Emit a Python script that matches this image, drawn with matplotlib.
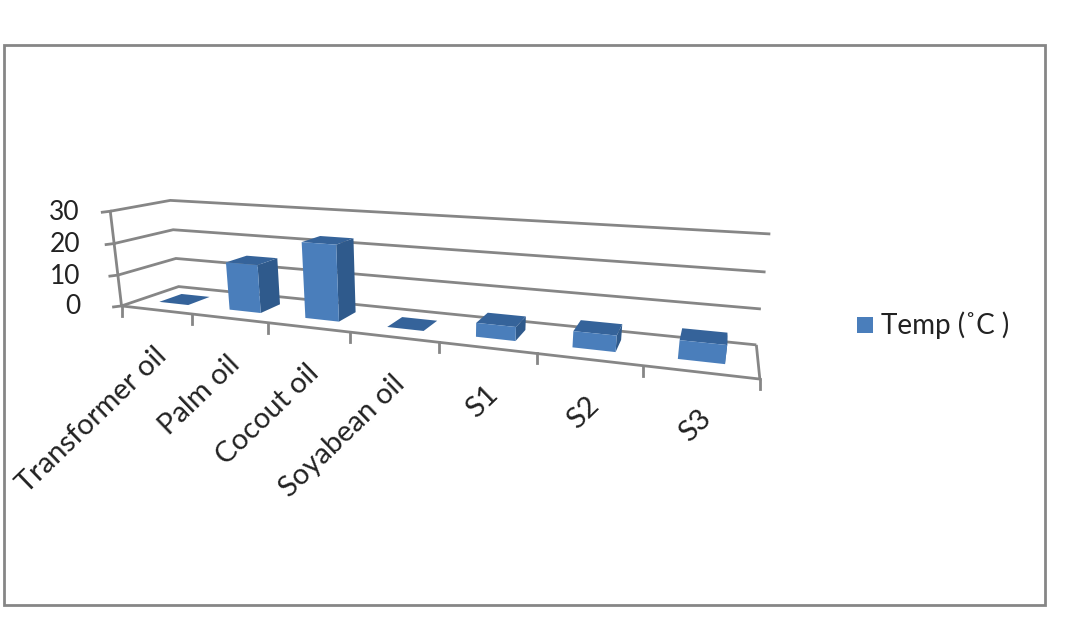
import numpy as np
import matplotlib
matplotlib.use("Agg")
import matplotlib.pyplot as plt
from matplotlib.patches import Polygon, Rectangle

categories = ["Transformer oil", "Palm oil", "Cocout oil", "Soyabean oil", "S1", "S2", "S3"]
temps = [0, 15, 23, 0, 4, 4.5, 5]
value_ticks = [0, 10, 20, 30]
series_name = "Temp (˚C )"

GRID = "#868686"
FRONT = "#4a7ebb"
SIDE = "#2f5a8c"
TOP = "#35639a"

plt.rcParams["font.family"] = ["Lato", "DejaVu Sans"]

# camera for the 3D box: (category, depth, value) -> pixel, solved from box landmarks
n = len(categories)
vmax = value_ticks[-1]
landmarks = [
    (0, 0, 0, 123, 306), (1, 0, 0, 193, 314), (2, 0, 0, 268, 323), (3, 0, 0, 350, 332),
    (4, 0, 0, 438, 342), (5, 0, 0, 537, 353.5), (6, 0, 0, 643, 365.6), (7, 0, 0, 760, 379),
    (0, 1, 0, 178, 287), (7, 1, 0, 756, 345),
    (0, 0, 10, 115, 275), (0, 0, 20, 113, 243), (0, 0, 30, 112, 212),
    (0, 1, 10, 177, 258), (0, 1, 20, 173, 230), (0, 1, 30, 170, 200),
    (7, 1, 10, 761, 309), (7, 1, 20, 766, 272), (7, 1, 30, 770, 234),
]
rows = []
rhs = []
for u, d, v, px, py in landmarks:
    rows.append([u, d, v, 1, 0, 0, 0, 0, -px * u, -px * d, -px * v])
    rhs.append(px)
    rows.append([0, 0, 0, 0, u, d, v, 1, -py * u, -py * d, -py * v])
    rhs.append(py)
cam = np.linalg.lstsq(np.array(rows, float), np.array(rhs, float), rcond=None)[0]
cam = np.append(cam, 1).reshape(3, 4)


def project(u, d, v):
    p = cam @ np.array([u, d, v, 1.0])
    return p[0] / p[2], p[1] / p[2]


fig = plt.figure(figsize=(10.69, 6.23), dpi=100)
ax = fig.add_axes([0, 0, 1, 1])
ax.set_xlim(0, 1069)
ax.set_ylim(623, 0)
ax.axis("off")

ax.add_patch(Rectangle((4, 45), 1041, 560, fill=False, edgecolor=GRID, lw=2))


def line(points, lw=2):
    xy = np.array([project(*p) for p in points])
    ax.plot(xy[:, 0], xy[:, 1], color=GRID, lw=lw, solid_capstyle="butt", solid_joinstyle="miter")


# walls and floor
for v in value_ticks:
    line([(0, 0, v), (0, 1, v), (n, 1, v)])
    x0, y0 = project(0, 0, v)
    ax.plot([x0 - 8, x0], [y0 + 1, y0], color=GRID, lw=2)
    ax.text(80, y0 + 1, str(v), ha="right", va="center", fontsize=19, color="#222222")
line([(0, 0, 0), (0, 0, vmax)])
line([(0, 0, 0), (n, 0, 0), (n, 1, 0)])

for i in range(n + 1):
    x0, y0 = project(i, 0, 0)
    ax.plot([x0, x0], [y0, y0 + 10], color=GRID, lw=2)

# bars, back faces first so the front face hides whatever should not show
for i, t in enumerate(temps):
    u0, u1 = i + 0.29, i + 0.71
    d0, d1 = 0.3, 0.7
    side = [project(u1, d0, 0), project(u1, d1, 0), project(u1, d1, t), project(u1, d0, t)]
    top = [project(u0, d0, t), project(u1, d0, t), project(u1, d1, t), project(u0, d1, t)]
    front = [project(u0, d0, 0), project(u1, d0, 0), project(u1, d0, t), project(u0, d0, t)]
    ax.add_patch(Polygon(side, closed=True, facecolor=SIDE, edgecolor="none", zorder=3))
    ax.add_patch(Polygon(top, closed=True, facecolor=TOP, edgecolor="none", zorder=3))
    ax.add_patch(Polygon(front, closed=True, facecolor=FRONT, edgecolor="none", zorder=3))

# category labels hang below the tick midpoints
for i, name in enumerate(categories):
    x0, y0 = project(i + 0.5, 0, 0)
    ax.text(x0 - 2, y0 + 33, name, rotation=44, rotation_mode="anchor", ha="right", va="top",
            fontsize=21, color="#222222")

# legend
ax.add_patch(Rectangle((857, 317), 16, 16, facecolor=FRONT, edgecolor="none"))
ax.text(881, 325, series_name, ha="left", va="center", fontsize=20, color="#222222")

fig.savefig("out.png", dpi=100)
